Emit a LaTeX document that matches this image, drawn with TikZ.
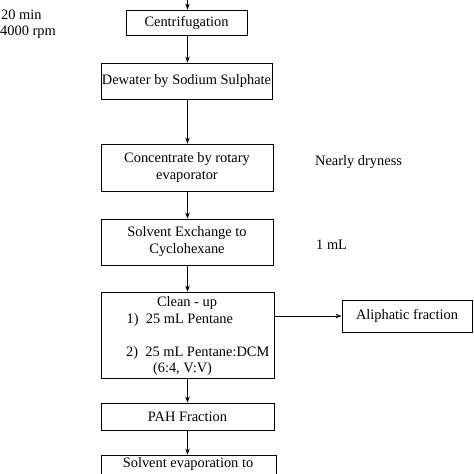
\documentclass[tikz,border=0pt]{standalone}
\usepackage{fontspec}
\setmainfont{Liberation Serif}
\usetikzlibrary{arrows.meta}
\begin{document}
\begin{tikzpicture}[x=1pt,y={(0pt,-1pt)},
  every node/.style={font=\fontsize{14.4}{17}\selectfont, inner sep=0pt},
  box/.style={draw, line width=0.8pt, align=center},
  lbl/.style={anchor=west},
  arr/.style={line width=0.8pt, -{Stealth[length=6pt,width=4.5pt]}}]
\useasboundingbox (0,0) rectangle (474,474);
\clip (0,0) rectangle (474,474);
\coordinate (top) at (187.5,-2);
\node[box, minimum width=121pt, minimum height=25pt] (cen) at (186.5,22.5) {Centrifugation};
\node[box, minimum width=171pt, minimum height=36pt] (dew) at (186.5,81) {Dewater by Sodium Sulphate};
\node[box, minimum width=172pt, minimum height=47pt] (con) at (187,167.5) {Concentrate by rotary\\evaporator};
\node[box, minimum width=172pt, minimum height=46pt] (sol) at (187,242) {Solvent Exchange to\\Cyclohexane};
\node[box, minimum width=173pt, minimum height=86pt] (cln) at (187.5,335) {};
\node (c0) at (187,303) {Clean - up};
\node[anchor=west] (c1) at (126.5,320.5) {1)\ \ 25 mL Pentane};
\node[anchor=west] (c2) at (126,353) {2)\ \ 25 mL Pentane:DCM};
\node (c3) at (182.5,369.5) {(6:4, V:V)};
\node[box, minimum width=130pt, minimum height=32pt] (ali) at (407,316) {Aliphatic fraction};
\node[box, minimum width=173pt, minimum height=27pt] (pah) at (187.5,416.5) {PAH Fraction};
\node[box, minimum width=175pt, minimum height=50pt] (eva) at (188.5,480) {};
\node (evt) at (188,464) {Solvent evaporation to};
\node[lbl] (t1) at (1,15) {20 min};
\node[lbl] (t2) at (0,32) {4000 rpm};
\node[lbl] (t3) at (315,162) {Nearly dryness};
\node[lbl] (t4) at (316,245) {1 mL};
\draw[arr] (top) -- (top |- cen.north);
\draw[arr] (cen.south -| top) -- (dew.north -| top);
\draw[arr] (dew.south -| top) -- (con.north -| top);
\draw[arr] (con.south -| top) -- (sol.north -| top);
\draw[arr] (sol.south -| top) -- (cln.north -| top);
\draw[arr] (cln.south -| top) -- (pah.north -| top);
\draw[arr] (pah.south -| top) -- (eva.north -| top);
\draw[arr] (ali.west -| cln.east) -- (ali.west);
\end{tikzpicture}
\end{document}
